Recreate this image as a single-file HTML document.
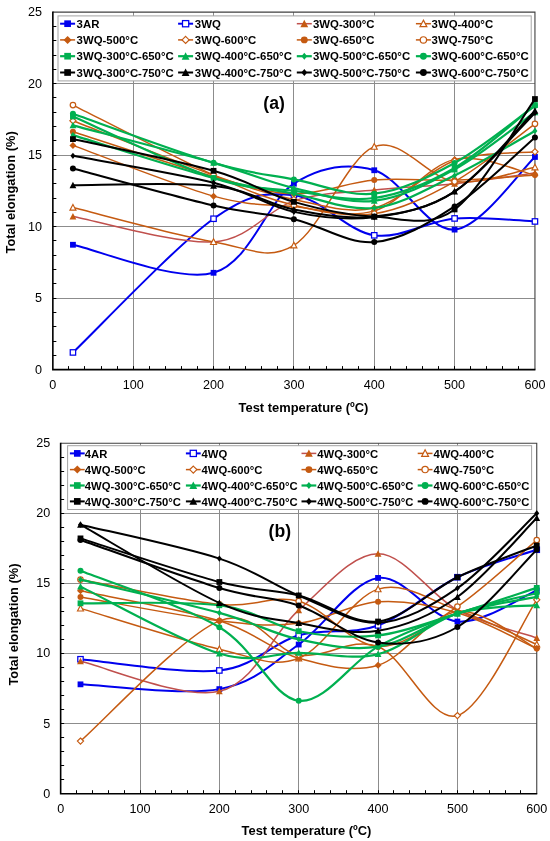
<!DOCTYPE html>
<html><head><meta charset="utf-8"><style>
html,body{margin:0;padding:0;background:#fff;}
body{width:550px;height:841px;overflow:hidden;}
svg{display:block;will-change:transform;filter:blur(0.3px);}
text{font-family:"Liberation Sans",sans-serif;fill:#000;}
.tl{font-size:12.6px;}
.lg{font-size:11.4px;font-weight:bold;}
.at{font-size:12.9px;font-weight:bold;}
.pl{font-size:17.6px;font-weight:bold;}
</style></head><body>
<svg width="550" height="841" viewBox="0 0 550 841">
<rect width="550" height="841" fill="#fff"/>
<line x1="133.50" y1="12.10" x2="133.50" y2="369.60" stroke="#8c8c8c" stroke-width="1"/>
<line x1="213.50" y1="12.10" x2="213.50" y2="369.60" stroke="#8c8c8c" stroke-width="1"/>
<line x1="293.50" y1="12.10" x2="293.50" y2="369.60" stroke="#8c8c8c" stroke-width="1"/>
<line x1="374.50" y1="12.10" x2="374.50" y2="369.60" stroke="#8c8c8c" stroke-width="1"/>
<line x1="454.50" y1="12.10" x2="454.50" y2="369.60" stroke="#8c8c8c" stroke-width="1"/>
<line x1="52.85" y1="298.50" x2="534.95" y2="298.50" stroke="#8c8c8c" stroke-width="1"/>
<line x1="52.85" y1="226.50" x2="534.95" y2="226.50" stroke="#8c8c8c" stroke-width="1"/>
<line x1="52.85" y1="155.50" x2="534.95" y2="155.50" stroke="#8c8c8c" stroke-width="1"/>
<line x1="52.85" y1="83.50" x2="534.95" y2="83.50" stroke="#8c8c8c" stroke-width="1"/>
<path d="M52.85,12.10 H534.95 V369.60" fill="none" stroke="#404040" stroke-width="1.1"/>
<line x1="68.50" y1="369.60" x2="68.50" y2="366.10" stroke="#000" stroke-width="1"/>
<line x1="84.50" y1="369.60" x2="84.50" y2="366.10" stroke="#000" stroke-width="1"/>
<line x1="101.50" y1="369.60" x2="101.50" y2="366.10" stroke="#000" stroke-width="1"/>
<line x1="117.50" y1="369.60" x2="117.50" y2="366.10" stroke="#000" stroke-width="1"/>
<line x1="133.50" y1="369.60" x2="133.50" y2="366.10" stroke="#000" stroke-width="1"/>
<line x1="149.50" y1="369.60" x2="149.50" y2="366.10" stroke="#000" stroke-width="1"/>
<line x1="165.50" y1="369.60" x2="165.50" y2="366.10" stroke="#000" stroke-width="1"/>
<line x1="181.50" y1="369.60" x2="181.50" y2="366.10" stroke="#000" stroke-width="1"/>
<line x1="197.50" y1="369.60" x2="197.50" y2="366.10" stroke="#000" stroke-width="1"/>
<line x1="213.50" y1="369.60" x2="213.50" y2="366.10" stroke="#000" stroke-width="1"/>
<line x1="229.50" y1="369.60" x2="229.50" y2="366.10" stroke="#000" stroke-width="1"/>
<line x1="245.50" y1="369.60" x2="245.50" y2="366.10" stroke="#000" stroke-width="1"/>
<line x1="261.50" y1="369.60" x2="261.50" y2="366.10" stroke="#000" stroke-width="1"/>
<line x1="277.50" y1="369.60" x2="277.50" y2="366.10" stroke="#000" stroke-width="1"/>
<line x1="293.50" y1="369.60" x2="293.50" y2="366.10" stroke="#000" stroke-width="1"/>
<line x1="309.50" y1="369.60" x2="309.50" y2="366.10" stroke="#000" stroke-width="1"/>
<line x1="326.50" y1="369.60" x2="326.50" y2="366.10" stroke="#000" stroke-width="1"/>
<line x1="342.50" y1="369.60" x2="342.50" y2="366.10" stroke="#000" stroke-width="1"/>
<line x1="358.50" y1="369.60" x2="358.50" y2="366.10" stroke="#000" stroke-width="1"/>
<line x1="374.50" y1="369.60" x2="374.50" y2="366.10" stroke="#000" stroke-width="1"/>
<line x1="390.50" y1="369.60" x2="390.50" y2="366.10" stroke="#000" stroke-width="1"/>
<line x1="406.50" y1="369.60" x2="406.50" y2="366.10" stroke="#000" stroke-width="1"/>
<line x1="422.50" y1="369.60" x2="422.50" y2="366.10" stroke="#000" stroke-width="1"/>
<line x1="438.50" y1="369.60" x2="438.50" y2="366.10" stroke="#000" stroke-width="1"/>
<line x1="454.50" y1="369.60" x2="454.50" y2="366.10" stroke="#000" stroke-width="1"/>
<line x1="470.50" y1="369.60" x2="470.50" y2="366.10" stroke="#000" stroke-width="1"/>
<line x1="486.50" y1="369.60" x2="486.50" y2="366.10" stroke="#000" stroke-width="1"/>
<line x1="502.50" y1="369.60" x2="502.50" y2="366.10" stroke="#000" stroke-width="1"/>
<line x1="518.50" y1="369.60" x2="518.50" y2="366.10" stroke="#000" stroke-width="1"/>
<line x1="52.85" y1="355.50" x2="56.35" y2="355.50" stroke="#000" stroke-width="1"/>
<line x1="52.85" y1="341.50" x2="56.35" y2="341.50" stroke="#000" stroke-width="1"/>
<line x1="52.85" y1="326.50" x2="56.35" y2="326.50" stroke="#000" stroke-width="1"/>
<line x1="52.85" y1="312.50" x2="56.35" y2="312.50" stroke="#000" stroke-width="1"/>
<line x1="52.85" y1="298.50" x2="56.35" y2="298.50" stroke="#000" stroke-width="1"/>
<line x1="52.85" y1="283.50" x2="56.35" y2="283.50" stroke="#000" stroke-width="1"/>
<line x1="52.85" y1="269.50" x2="56.35" y2="269.50" stroke="#000" stroke-width="1"/>
<line x1="52.85" y1="255.50" x2="56.35" y2="255.50" stroke="#000" stroke-width="1"/>
<line x1="52.85" y1="240.50" x2="56.35" y2="240.50" stroke="#000" stroke-width="1"/>
<line x1="52.85" y1="226.50" x2="56.35" y2="226.50" stroke="#000" stroke-width="1"/>
<line x1="52.85" y1="212.50" x2="56.35" y2="212.50" stroke="#000" stroke-width="1"/>
<line x1="52.85" y1="198.50" x2="56.35" y2="198.50" stroke="#000" stroke-width="1"/>
<line x1="52.85" y1="183.50" x2="56.35" y2="183.50" stroke="#000" stroke-width="1"/>
<line x1="52.85" y1="169.50" x2="56.35" y2="169.50" stroke="#000" stroke-width="1"/>
<line x1="52.85" y1="155.50" x2="56.35" y2="155.50" stroke="#000" stroke-width="1"/>
<line x1="52.85" y1="140.50" x2="56.35" y2="140.50" stroke="#000" stroke-width="1"/>
<line x1="52.85" y1="126.50" x2="56.35" y2="126.50" stroke="#000" stroke-width="1"/>
<line x1="52.85" y1="112.50" x2="56.35" y2="112.50" stroke="#000" stroke-width="1"/>
<line x1="52.85" y1="97.50" x2="56.35" y2="97.50" stroke="#000" stroke-width="1"/>
<line x1="52.85" y1="83.50" x2="56.35" y2="83.50" stroke="#000" stroke-width="1"/>
<line x1="52.85" y1="69.50" x2="56.35" y2="69.50" stroke="#000" stroke-width="1"/>
<line x1="52.85" y1="55.50" x2="56.35" y2="55.50" stroke="#000" stroke-width="1"/>
<line x1="52.85" y1="40.50" x2="56.35" y2="40.50" stroke="#000" stroke-width="1"/>
<line x1="52.85" y1="26.50" x2="56.35" y2="26.50" stroke="#000" stroke-width="1"/>
<path d="M52.85,11.60 V369.60 H535.45" fill="none" stroke="#000" stroke-width="1.6"/>
<text x="42.00" y="373.50" text-anchor="end" class="tl">0</text>
<text x="42.00" y="302.00" text-anchor="end" class="tl">5</text>
<text x="42.00" y="230.50" text-anchor="end" class="tl">10</text>
<text x="42.00" y="159.00" text-anchor="end" class="tl">15</text>
<text x="42.00" y="87.50" text-anchor="end" class="tl">20</text>
<text x="42.00" y="16.00" text-anchor="end" class="tl">25</text>
<text x="52.85" y="388.60" text-anchor="middle" class="tl">0</text>
<text x="133.20" y="388.60" text-anchor="middle" class="tl">100</text>
<text x="213.55" y="388.60" text-anchor="middle" class="tl">200</text>
<text x="293.90" y="388.60" text-anchor="middle" class="tl">300</text>
<text x="374.25" y="388.60" text-anchor="middle" class="tl">400</text>
<text x="454.60" y="388.60" text-anchor="middle" class="tl">500</text>
<text x="534.95" y="388.60" text-anchor="middle" class="tl">600</text>
<path d="M72.94,244.76 C96.37,249.43 176.72,282.97 213.55,272.79 C250.38,262.61 267.12,200.79 293.90,183.70 C320.68,166.61 347.47,162.61 374.25,170.26 C401.03,177.91 427.82,231.82 454.60,229.60 C481.38,227.39 521.56,169.07 534.95,156.96" fill="none" stroke="#0000EE" stroke-width="2.00"/>
<rect x="70.04" y="241.86" width="5.80" height="5.80" fill="#0000EE"/>
<rect x="210.65" y="269.89" width="5.80" height="5.80" fill="#0000EE"/>
<rect x="291.00" y="180.80" width="5.80" height="5.80" fill="#0000EE"/>
<rect x="371.35" y="167.36" width="5.80" height="5.80" fill="#0000EE"/>
<rect x="451.70" y="226.70" width="5.80" height="5.80" fill="#0000EE"/>
<rect x="532.05" y="154.06" width="5.80" height="5.80" fill="#0000EE"/>
<path d="M72.94,352.44 C96.37,330.16 176.72,244.95 213.55,218.74 C250.38,192.52 267.12,192.38 293.90,195.14 C320.68,197.90 347.47,231.44 374.25,235.32 C401.03,239.21 427.82,220.76 454.60,218.45 C481.38,216.14 521.56,220.95 534.95,221.45" fill="none" stroke="#0000EE" stroke-width="2.00"/>
<rect x="70.24" y="349.74" width="5.40" height="5.40" fill="#fff" stroke="#0000EE" stroke-width="1.25"/>
<rect x="210.85" y="216.04" width="5.40" height="5.40" fill="#fff" stroke="#0000EE" stroke-width="1.25"/>
<rect x="291.20" y="192.44" width="5.40" height="5.40" fill="#fff" stroke="#0000EE" stroke-width="1.25"/>
<rect x="371.55" y="232.62" width="5.40" height="5.40" fill="#fff" stroke="#0000EE" stroke-width="1.25"/>
<rect x="451.90" y="215.75" width="5.40" height="5.40" fill="#fff" stroke="#0000EE" stroke-width="1.25"/>
<rect x="532.25" y="218.75" width="5.40" height="5.40" fill="#fff" stroke="#0000EE" stroke-width="1.25"/>
<path d="M72.94,216.45 C96.37,220.69 176.72,244.50 213.55,241.90 C250.38,239.30 267.12,209.51 293.90,200.86 C320.68,192.21 347.47,192.85 374.25,189.99 C401.03,187.13 427.82,186.54 454.60,183.70 C481.38,180.86 521.56,174.76 534.95,172.98" fill="none" stroke="#C0504D" stroke-width="1.50"/>
<path d="M72.94,212.95 L76.34,219.45 L69.54,219.45 Z" fill="#C55A11"/>
<path d="M213.55,238.40 L216.95,244.90 L210.15,244.90 Z" fill="#C55A11"/>
<path d="M293.90,197.36 L297.30,203.86 L290.50,203.86 Z" fill="#C55A11"/>
<path d="M374.25,186.49 L377.65,192.99 L370.85,192.99 Z" fill="#C55A11"/>
<path d="M454.60,180.20 L458.00,186.70 L451.20,186.70 Z" fill="#C55A11"/>
<path d="M534.95,169.48 L538.35,175.98 L531.55,175.98 Z" fill="#C55A11"/>
<path d="M72.94,207.58 C96.37,213.30 176.72,235.61 213.55,241.90 C250.38,248.19 267.12,261.21 293.90,245.33 C320.68,229.46 347.47,157.29 374.25,146.66 C401.03,136.03 427.82,178.12 454.60,181.56 C481.38,184.99 521.56,169.64 534.95,167.25" fill="none" stroke="#C55A11" stroke-width="1.50"/>
<path d="M72.94,204.48 L75.94,210.18 L69.94,210.18 Z" fill="#fff" stroke="#C55A11" stroke-width="1.15" stroke-linejoin="miter"/>
<path d="M213.55,238.80 L216.55,244.50 L210.55,244.50 Z" fill="#fff" stroke="#C55A11" stroke-width="1.15" stroke-linejoin="miter"/>
<path d="M293.90,242.23 L296.90,247.93 L290.90,247.93 Z" fill="#fff" stroke="#C55A11" stroke-width="1.15" stroke-linejoin="miter"/>
<path d="M374.25,143.56 L377.25,149.26 L371.25,149.26 Z" fill="#fff" stroke="#C55A11" stroke-width="1.15" stroke-linejoin="miter"/>
<path d="M454.60,178.46 L457.60,184.16 L451.60,184.16 Z" fill="#fff" stroke="#C55A11" stroke-width="1.15" stroke-linejoin="miter"/>
<path d="M534.95,164.16 L537.95,169.85 L531.95,169.85 Z" fill="#fff" stroke="#C55A11" stroke-width="1.15" stroke-linejoin="miter"/>
<path d="M72.94,145.38 C96.37,153.84 176.72,185.94 213.55,196.14 C250.38,206.34 267.12,204.13 293.90,206.58 C320.68,209.03 347.47,218.74 374.25,210.87 C401.03,203.01 427.82,165.35 454.60,159.39 C481.38,153.43 521.56,172.50 534.95,175.12" fill="none" stroke="#C55A11" stroke-width="1.50"/>
<path d="M72.94,141.88 L76.44,145.38 L72.94,148.88 L69.44,145.38 Z" fill="#C55A11"/>
<path d="M213.55,192.64 L217.05,196.14 L213.55,199.64 L210.05,196.14 Z" fill="#C55A11"/>
<path d="M293.90,203.08 L297.40,206.58 L293.90,210.08 L290.40,206.58 Z" fill="#C55A11"/>
<path d="M374.25,207.37 L377.75,210.87 L374.25,214.37 L370.75,210.87 Z" fill="#C55A11"/>
<path d="M454.60,155.89 L458.10,159.39 L454.60,162.89 L451.10,159.39 Z" fill="#C55A11"/>
<path d="M534.95,171.62 L538.45,175.12 L534.95,178.62 L531.45,175.12 Z" fill="#C55A11"/>
<path d="M72.94,120.78 C96.37,129.84 176.72,162.01 213.55,175.12 C250.38,188.23 267.12,193.95 293.90,199.43 C320.68,204.91 347.47,214.44 374.25,208.01 C401.03,201.57 427.82,170.19 454.60,160.82 C481.38,151.45 521.56,153.31 534.95,151.81" fill="none" stroke="#C55A11" stroke-width="1.50"/>
<path d="M72.94,117.68 L76.04,120.78 L72.94,123.88 L69.84,120.78 Z" fill="#fff" stroke="#C55A11" stroke-width="1.15"/>
<path d="M213.55,172.02 L216.65,175.12 L213.55,178.22 L210.45,175.12 Z" fill="#fff" stroke="#C55A11" stroke-width="1.15"/>
<path d="M293.90,196.33 L297.00,199.43 L293.90,202.53 L290.80,199.43 Z" fill="#fff" stroke="#C55A11" stroke-width="1.15"/>
<path d="M374.25,204.91 L377.35,208.01 L374.25,211.11 L371.15,208.01 Z" fill="#fff" stroke="#C55A11" stroke-width="1.15"/>
<path d="M454.60,157.72 L457.70,160.82 L454.60,163.92 L451.50,160.82 Z" fill="#fff" stroke="#C55A11" stroke-width="1.15"/>
<path d="M534.95,148.71 L538.05,151.81 L534.95,154.91 L531.85,151.81 Z" fill="#fff" stroke="#C55A11" stroke-width="1.15"/>
<path d="M72.94,131.79 C96.37,139.25 176.72,166.23 213.55,176.55 C250.38,186.87 267.12,193.14 293.90,193.71 C320.68,194.28 347.47,182.25 374.25,179.98 C401.03,177.72 427.82,180.94 454.60,180.12 C481.38,179.31 521.56,175.95 534.95,175.12" fill="none" stroke="#C55A11" stroke-width="1.50"/>
<circle cx="72.94" cy="131.79" r="3.00" fill="#C55A11"/>
<circle cx="213.55" cy="176.55" r="3.00" fill="#C55A11"/>
<circle cx="293.90" cy="193.71" r="3.00" fill="#C55A11"/>
<circle cx="374.25" cy="179.98" r="3.00" fill="#C55A11"/>
<circle cx="454.60" cy="180.12" r="3.00" fill="#C55A11"/>
<circle cx="534.95" cy="175.12" r="3.00" fill="#C55A11"/>
<path d="M72.94,105.05 C96.37,116.73 176.72,158.44 213.55,175.12 C250.38,191.80 267.12,198.72 293.90,205.15 C320.68,211.59 347.47,217.66 374.25,213.73 C401.03,209.80 427.82,196.55 454.60,181.56 C481.38,166.56 521.56,133.41 534.95,123.78" fill="none" stroke="#C55A11" stroke-width="1.50"/>
<circle cx="72.94" cy="105.05" r="2.75" fill="#fff" stroke="#C55A11" stroke-width="1.2"/>
<circle cx="213.55" cy="175.12" r="2.75" fill="#fff" stroke="#C55A11" stroke-width="1.2"/>
<circle cx="293.90" cy="205.15" r="2.75" fill="#fff" stroke="#C55A11" stroke-width="1.2"/>
<circle cx="374.25" cy="213.73" r="2.75" fill="#fff" stroke="#C55A11" stroke-width="1.2"/>
<circle cx="454.60" cy="181.56" r="2.75" fill="#fff" stroke="#C55A11" stroke-width="1.2"/>
<circle cx="534.95" cy="123.78" r="2.75" fill="#fff" stroke="#C55A11" stroke-width="1.2"/>
<path d="M72.94,116.49 C96.37,126.74 176.72,165.59 213.55,177.98 C250.38,190.37 267.12,187.51 293.90,190.85 C320.68,194.19 347.47,201.81 374.25,198.00 C401.03,194.19 427.82,183.46 454.60,167.97 C481.38,152.48 521.56,115.54 534.95,105.05" fill="none" stroke="#00B050" stroke-width="2.20"/>
<rect x="70.04" y="113.59" width="5.80" height="5.80" fill="#00B050"/>
<rect x="210.65" y="175.08" width="5.80" height="5.80" fill="#00B050"/>
<rect x="291.00" y="187.95" width="5.80" height="5.80" fill="#00B050"/>
<rect x="371.35" y="195.10" width="5.80" height="5.80" fill="#00B050"/>
<rect x="451.70" y="165.07" width="5.80" height="5.80" fill="#00B050"/>
<rect x="532.05" y="102.15" width="5.80" height="5.80" fill="#00B050"/>
<path d="M72.94,125.36 C96.37,131.60 176.72,152.38 213.55,162.82 C250.38,173.26 267.12,181.65 293.90,187.99 C320.68,194.33 347.47,203.96 374.25,200.86 C401.03,197.76 427.82,184.18 454.60,169.40 C481.38,154.62 521.56,121.73 534.95,112.20" fill="none" stroke="#00B050" stroke-width="2.20"/>
<path d="M72.94,121.86 L76.34,128.36 L69.54,128.36 Z" fill="#00B050"/>
<path d="M213.55,159.32 L216.95,165.82 L210.15,165.82 Z" fill="#00B050"/>
<path d="M293.90,184.49 L297.30,190.99 L290.50,190.99 Z" fill="#00B050"/>
<path d="M374.25,197.36 L377.65,203.86 L370.85,203.86 Z" fill="#00B050"/>
<path d="M454.60,165.90 L458.00,172.40 L451.20,172.40 Z" fill="#00B050"/>
<path d="M534.95,108.70 L538.35,115.20 L531.55,115.20 Z" fill="#00B050"/>
<path d="M72.94,135.08 C96.37,142.23 176.72,168.21 213.55,177.98 C250.38,187.75 267.12,188.71 293.90,193.71 C320.68,198.72 347.47,211.04 374.25,208.01 C401.03,204.98 427.82,188.40 454.60,175.55 C481.38,162.70 521.56,138.37 534.95,130.93" fill="none" stroke="#00B050" stroke-width="2.20"/>
<path d="M72.94,131.98 L75.44,135.08 L72.94,138.18 L70.44,135.08 Z" fill="#00B050"/>
<path d="M213.55,174.88 L216.05,177.98 L213.55,181.08 L211.05,177.98 Z" fill="#00B050"/>
<path d="M293.90,190.61 L296.40,193.71 L293.90,196.81 L291.40,193.71 Z" fill="#00B050"/>
<path d="M374.25,204.91 L376.75,208.01 L374.25,211.11 L371.75,208.01 Z" fill="#00B050"/>
<path d="M454.60,172.45 L457.10,175.55 L454.60,178.65 L452.10,175.55 Z" fill="#00B050"/>
<path d="M534.95,127.83 L537.45,130.93 L534.95,134.03 L532.45,130.93 Z" fill="#00B050"/>
<path d="M72.94,113.77 C96.37,121.95 176.72,151.88 213.55,162.82 C250.38,173.76 267.12,174.26 293.90,179.41 C320.68,184.56 347.47,196.45 374.25,193.71 C401.03,190.97 427.82,177.62 454.60,162.97 C481.38,148.31 521.56,115.30 534.95,105.77" fill="none" stroke="#00B050" stroke-width="2.20"/>
<circle cx="72.94" cy="113.77" r="3.00" fill="#00B050"/>
<circle cx="213.55" cy="162.82" r="3.00" fill="#00B050"/>
<circle cx="293.90" cy="179.41" r="3.00" fill="#00B050"/>
<circle cx="374.25" cy="193.71" r="3.00" fill="#00B050"/>
<circle cx="454.60" cy="162.97" r="3.00" fill="#00B050"/>
<circle cx="534.95" cy="105.77" r="3.00" fill="#00B050"/>
<path d="M72.94,139.08 C96.37,144.38 176.72,160.37 213.55,170.83 C250.38,181.29 267.12,194.23 293.90,201.86 C320.68,209.49 347.47,215.33 374.25,216.59 C401.03,217.85 427.82,229.03 454.60,209.44 C481.38,189.85 521.56,117.44 534.95,99.04" fill="none" stroke="#000000" stroke-width="2.00"/>
<rect x="70.04" y="136.18" width="5.80" height="5.80" fill="#000000"/>
<rect x="210.65" y="167.93" width="5.80" height="5.80" fill="#000000"/>
<rect x="291.00" y="198.96" width="5.80" height="5.80" fill="#000000"/>
<rect x="371.35" y="213.69" width="5.80" height="5.80" fill="#000000"/>
<rect x="451.70" y="206.54" width="5.80" height="5.80" fill="#000000"/>
<rect x="532.05" y="96.14" width="5.80" height="5.80" fill="#000000"/>
<path d="M72.94,185.27 C96.37,185.37 176.72,181.82 213.55,185.85 C250.38,189.87 267.12,204.32 293.90,209.44 C320.68,214.56 347.47,219.57 374.25,216.59 C401.03,213.61 427.82,209.20 454.60,191.57 C481.38,173.93 521.56,124.24 534.95,110.77" fill="none" stroke="#000000" stroke-width="2.00"/>
<path d="M72.94,181.77 L76.34,188.27 L69.54,188.27 Z" fill="#000000"/>
<path d="M213.55,182.35 L216.95,188.85 L210.15,188.85 Z" fill="#000000"/>
<path d="M293.90,205.94 L297.30,212.44 L290.50,212.44 Z" fill="#000000"/>
<path d="M374.25,213.09 L377.65,219.59 L370.85,219.59 Z" fill="#000000"/>
<path d="M454.60,188.07 L458.00,194.57 L451.20,194.57 Z" fill="#000000"/>
<path d="M534.95,107.27 L538.35,113.77 L531.55,113.77 Z" fill="#000000"/>
<path d="M72.94,155.82 C96.37,160.30 176.72,173.36 213.55,182.70 C250.38,192.04 267.12,206.13 293.90,211.87 C320.68,217.61 347.47,220.55 374.25,217.16 C401.03,213.78 427.82,208.94 454.60,191.57 C481.38,174.19 521.56,126.02 534.95,112.92" fill="none" stroke="#000000" stroke-width="2.00"/>
<path d="M72.94,152.72 L75.44,155.82 L72.94,158.92 L70.44,155.82 Z" fill="#000000"/>
<path d="M213.55,179.60 L216.05,182.70 L213.55,185.80 L211.05,182.70 Z" fill="#000000"/>
<path d="M293.90,208.77 L296.40,211.87 L293.90,214.97 L291.40,211.87 Z" fill="#000000"/>
<path d="M374.25,214.06 L376.75,217.16 L374.25,220.26 L371.75,217.16 Z" fill="#000000"/>
<path d="M454.60,188.47 L457.10,191.57 L454.60,194.67 L452.10,191.57 Z" fill="#000000"/>
<path d="M534.95,109.82 L537.45,112.92 L534.95,116.02 L532.45,112.92 Z" fill="#000000"/>
<path d="M72.94,168.54 C96.37,174.71 176.72,197.14 213.55,205.58 C250.38,214.02 267.12,213.09 293.90,219.16 C320.68,225.24 347.47,244.17 374.25,242.04 C401.03,239.92 427.82,223.86 454.60,206.44 C481.38,189.01 521.56,149.00 534.95,137.51" fill="none" stroke="#000000" stroke-width="2.00"/>
<circle cx="72.94" cy="168.54" r="3.00" fill="#000000"/>
<circle cx="213.55" cy="205.58" r="3.00" fill="#000000"/>
<circle cx="293.90" cy="219.16" r="3.00" fill="#000000"/>
<circle cx="374.25" cy="242.04" r="3.00" fill="#000000"/>
<circle cx="454.60" cy="206.44" r="3.00" fill="#000000"/>
<circle cx="534.95" cy="137.51" r="3.00" fill="#000000"/>
<rect x="58.00" y="15.90" width="473.20" height="65.00" fill="#fff" stroke="#a4a4a4" stroke-width="1"/>
<line x1="60.10" y1="23.70" x2="75.10" y2="23.70" stroke="#0000EE" stroke-width="2.00"/>
<rect x="64.27" y="20.36" width="6.67" height="6.67" fill="#0000EE"/>
<text x="76.60" y="27.80" class="lg" style="font-size:11.40px">3AR</text>
<line x1="178.10" y1="23.70" x2="193.10" y2="23.70" stroke="#0000EE" stroke-width="2.00"/>
<rect x="182.50" y="20.59" width="6.21" height="6.21" fill="#fff" stroke="#0000EE" stroke-width="1.25"/>
<text x="194.80" y="27.80" class="lg" style="font-size:11.40px">3WQ</text>
<line x1="296.80" y1="23.70" x2="311.80" y2="23.70" stroke="#C0504D" stroke-width="1.50"/>
<path d="M304.30,19.68 L308.21,27.15 L300.39,27.15 Z" fill="#C55A11"/>
<text x="313.00" y="27.80" class="lg" style="font-size:11.40px">3WQ-300°C</text>
<line x1="415.90" y1="23.70" x2="430.90" y2="23.70" stroke="#C55A11" stroke-width="1.50"/>
<path d="M423.40,20.13 L426.85,26.69 L419.95,26.69 Z" fill="#fff" stroke="#C55A11" stroke-width="1.15" stroke-linejoin="miter"/>
<text x="431.60" y="27.80" class="lg" style="font-size:11.40px">3WQ-400°C</text>
<line x1="60.10" y1="39.90" x2="75.10" y2="39.90" stroke="#C55A11" stroke-width="1.50"/>
<path d="M67.60,35.88 L71.62,39.90 L67.60,43.92 L63.57,39.90 Z" fill="#C55A11"/>
<text x="76.60" y="44.00" class="lg" style="font-size:11.40px">3WQ-500°C</text>
<line x1="178.10" y1="39.90" x2="193.10" y2="39.90" stroke="#C55A11" stroke-width="1.50"/>
<path d="M185.60,36.34 L189.16,39.90 L185.60,43.46 L182.03,39.90 Z" fill="#fff" stroke="#C55A11" stroke-width="1.15"/>
<text x="194.80" y="44.00" class="lg" style="font-size:11.40px">3WQ-600°C</text>
<line x1="296.80" y1="39.90" x2="311.80" y2="39.90" stroke="#C55A11" stroke-width="1.50"/>
<circle cx="304.30" cy="39.90" r="3.45" fill="#C55A11"/>
<text x="313.00" y="44.00" class="lg" style="font-size:11.40px">3WQ-650°C</text>
<line x1="415.90" y1="39.90" x2="430.90" y2="39.90" stroke="#C55A11" stroke-width="1.50"/>
<circle cx="423.40" cy="39.90" r="3.16" fill="#fff" stroke="#C55A11" stroke-width="1.2"/>
<text x="431.60" y="44.00" class="lg" style="font-size:11.40px">3WQ-750°C</text>
<line x1="60.10" y1="56.20" x2="75.10" y2="56.20" stroke="#00B050" stroke-width="2.20"/>
<rect x="64.27" y="52.87" width="6.67" height="6.67" fill="#00B050"/>
<text x="76.60" y="60.30" class="lg" style="font-size:11.40px">3WQ-300°C-650°C</text>
<line x1="178.10" y1="56.20" x2="193.10" y2="56.20" stroke="#00B050" stroke-width="2.20"/>
<path d="M185.60,52.18 L189.51,59.65 L181.69,59.65 Z" fill="#00B050"/>
<text x="194.80" y="60.30" class="lg" style="font-size:11.40px">3WQ-400°C-650°C</text>
<line x1="296.80" y1="56.20" x2="311.80" y2="56.20" stroke="#00B050" stroke-width="2.20"/>
<path d="M304.30,52.64 L307.18,56.20 L304.30,59.77 L301.43,56.20 Z" fill="#00B050"/>
<text x="313.00" y="60.30" class="lg" style="font-size:11.40px">3WQ-500°C-650°C</text>
<line x1="415.90" y1="56.20" x2="430.90" y2="56.20" stroke="#00B050" stroke-width="2.20"/>
<circle cx="423.40" cy="56.20" r="3.45" fill="#00B050"/>
<text x="431.60" y="60.30" class="lg" style="font-size:11.40px">3WQ-600°C-650°C</text>
<line x1="60.10" y1="72.50" x2="75.10" y2="72.50" stroke="#000000" stroke-width="2.00"/>
<rect x="64.27" y="69.17" width="6.67" height="6.67" fill="#000000"/>
<text x="76.60" y="76.60" class="lg" style="font-size:11.40px">3WQ-300°C-750°C</text>
<line x1="178.10" y1="72.50" x2="193.10" y2="72.50" stroke="#000000" stroke-width="2.00"/>
<path d="M185.60,68.47 L189.51,75.95 L181.69,75.95 Z" fill="#000000"/>
<text x="194.80" y="76.60" class="lg" style="font-size:11.40px">3WQ-400°C-750°C</text>
<line x1="296.80" y1="72.50" x2="311.80" y2="72.50" stroke="#000000" stroke-width="2.00"/>
<path d="M304.30,68.94 L307.18,72.50 L304.30,76.06 L301.43,72.50 Z" fill="#000000"/>
<text x="313.00" y="76.60" class="lg" style="font-size:11.40px">3WQ-500°C-750°C</text>
<line x1="415.90" y1="72.50" x2="430.90" y2="72.50" stroke="#000000" stroke-width="2.00"/>
<circle cx="423.40" cy="72.50" r="3.45" fill="#000000"/>
<text x="431.60" y="76.60" class="lg" style="font-size:11.40px">3WQ-600°C-750°C</text>
<text x="263.30" y="108.60" class="pl">(a)</text>
<text x="303.50" y="411.60" text-anchor="middle" class="at">Test temperature (<tspan>º</tspan>C)</text>
<text transform="translate(15.30,192.40) rotate(-90)" text-anchor="middle" class="at">Total elongation (%)</text>
<line x1="140.50" y1="443.20" x2="140.50" y2="793.70" stroke="#8c8c8c" stroke-width="1"/>
<line x1="219.50" y1="443.20" x2="219.50" y2="793.70" stroke="#8c8c8c" stroke-width="1"/>
<line x1="298.50" y1="443.20" x2="298.50" y2="793.70" stroke="#8c8c8c" stroke-width="1"/>
<line x1="378.50" y1="443.20" x2="378.50" y2="793.70" stroke="#8c8c8c" stroke-width="1"/>
<line x1="457.50" y1="443.20" x2="457.50" y2="793.70" stroke="#8c8c8c" stroke-width="1"/>
<line x1="60.65" y1="723.50" x2="536.75" y2="723.50" stroke="#8c8c8c" stroke-width="1"/>
<line x1="60.65" y1="653.50" x2="536.75" y2="653.50" stroke="#8c8c8c" stroke-width="1"/>
<line x1="60.65" y1="583.50" x2="536.75" y2="583.50" stroke="#8c8c8c" stroke-width="1"/>
<line x1="60.65" y1="513.50" x2="536.75" y2="513.50" stroke="#8c8c8c" stroke-width="1"/>
<path d="M60.65,443.20 H536.75 V793.70" fill="none" stroke="#404040" stroke-width="1.1"/>
<line x1="76.50" y1="793.70" x2="76.50" y2="790.20" stroke="#000" stroke-width="1"/>
<line x1="92.50" y1="793.70" x2="92.50" y2="790.20" stroke="#000" stroke-width="1"/>
<line x1="108.50" y1="793.70" x2="108.50" y2="790.20" stroke="#000" stroke-width="1"/>
<line x1="124.50" y1="793.70" x2="124.50" y2="790.20" stroke="#000" stroke-width="1"/>
<line x1="140.50" y1="793.70" x2="140.50" y2="790.20" stroke="#000" stroke-width="1"/>
<line x1="155.50" y1="793.70" x2="155.50" y2="790.20" stroke="#000" stroke-width="1"/>
<line x1="171.50" y1="793.70" x2="171.50" y2="790.20" stroke="#000" stroke-width="1"/>
<line x1="187.50" y1="793.70" x2="187.50" y2="790.20" stroke="#000" stroke-width="1"/>
<line x1="203.50" y1="793.70" x2="203.50" y2="790.20" stroke="#000" stroke-width="1"/>
<line x1="219.50" y1="793.70" x2="219.50" y2="790.20" stroke="#000" stroke-width="1"/>
<line x1="235.50" y1="793.70" x2="235.50" y2="790.20" stroke="#000" stroke-width="1"/>
<line x1="251.50" y1="793.70" x2="251.50" y2="790.20" stroke="#000" stroke-width="1"/>
<line x1="266.50" y1="793.70" x2="266.50" y2="790.20" stroke="#000" stroke-width="1"/>
<line x1="282.50" y1="793.70" x2="282.50" y2="790.20" stroke="#000" stroke-width="1"/>
<line x1="298.50" y1="793.70" x2="298.50" y2="790.20" stroke="#000" stroke-width="1"/>
<line x1="314.50" y1="793.70" x2="314.50" y2="790.20" stroke="#000" stroke-width="1"/>
<line x1="330.50" y1="793.70" x2="330.50" y2="790.20" stroke="#000" stroke-width="1"/>
<line x1="346.50" y1="793.70" x2="346.50" y2="790.20" stroke="#000" stroke-width="1"/>
<line x1="362.50" y1="793.70" x2="362.50" y2="790.20" stroke="#000" stroke-width="1"/>
<line x1="378.50" y1="793.70" x2="378.50" y2="790.20" stroke="#000" stroke-width="1"/>
<line x1="393.50" y1="793.70" x2="393.50" y2="790.20" stroke="#000" stroke-width="1"/>
<line x1="409.50" y1="793.70" x2="409.50" y2="790.20" stroke="#000" stroke-width="1"/>
<line x1="425.50" y1="793.70" x2="425.50" y2="790.20" stroke="#000" stroke-width="1"/>
<line x1="441.50" y1="793.70" x2="441.50" y2="790.20" stroke="#000" stroke-width="1"/>
<line x1="457.50" y1="793.70" x2="457.50" y2="790.20" stroke="#000" stroke-width="1"/>
<line x1="473.50" y1="793.70" x2="473.50" y2="790.20" stroke="#000" stroke-width="1"/>
<line x1="489.50" y1="793.70" x2="489.50" y2="790.20" stroke="#000" stroke-width="1"/>
<line x1="505.50" y1="793.70" x2="505.50" y2="790.20" stroke="#000" stroke-width="1"/>
<line x1="520.50" y1="793.70" x2="520.50" y2="790.20" stroke="#000" stroke-width="1"/>
<line x1="60.65" y1="779.50" x2="64.15" y2="779.50" stroke="#000" stroke-width="1"/>
<line x1="60.65" y1="765.50" x2="64.15" y2="765.50" stroke="#000" stroke-width="1"/>
<line x1="60.65" y1="751.50" x2="64.15" y2="751.50" stroke="#000" stroke-width="1"/>
<line x1="60.65" y1="737.50" x2="64.15" y2="737.50" stroke="#000" stroke-width="1"/>
<line x1="60.65" y1="723.50" x2="64.15" y2="723.50" stroke="#000" stroke-width="1"/>
<line x1="60.65" y1="709.50" x2="64.15" y2="709.50" stroke="#000" stroke-width="1"/>
<line x1="60.65" y1="695.50" x2="64.15" y2="695.50" stroke="#000" stroke-width="1"/>
<line x1="60.65" y1="681.50" x2="64.15" y2="681.50" stroke="#000" stroke-width="1"/>
<line x1="60.65" y1="667.50" x2="64.15" y2="667.50" stroke="#000" stroke-width="1"/>
<line x1="60.65" y1="653.50" x2="64.15" y2="653.50" stroke="#000" stroke-width="1"/>
<line x1="60.65" y1="639.50" x2="64.15" y2="639.50" stroke="#000" stroke-width="1"/>
<line x1="60.65" y1="625.50" x2="64.15" y2="625.50" stroke="#000" stroke-width="1"/>
<line x1="60.65" y1="611.50" x2="64.15" y2="611.50" stroke="#000" stroke-width="1"/>
<line x1="60.65" y1="597.50" x2="64.15" y2="597.50" stroke="#000" stroke-width="1"/>
<line x1="60.65" y1="583.50" x2="64.15" y2="583.50" stroke="#000" stroke-width="1"/>
<line x1="60.65" y1="569.50" x2="64.15" y2="569.50" stroke="#000" stroke-width="1"/>
<line x1="60.65" y1="555.50" x2="64.15" y2="555.50" stroke="#000" stroke-width="1"/>
<line x1="60.65" y1="541.50" x2="64.15" y2="541.50" stroke="#000" stroke-width="1"/>
<line x1="60.65" y1="527.50" x2="64.15" y2="527.50" stroke="#000" stroke-width="1"/>
<line x1="60.65" y1="513.50" x2="64.15" y2="513.50" stroke="#000" stroke-width="1"/>
<line x1="60.65" y1="499.50" x2="64.15" y2="499.50" stroke="#000" stroke-width="1"/>
<line x1="60.65" y1="485.50" x2="64.15" y2="485.50" stroke="#000" stroke-width="1"/>
<line x1="60.65" y1="471.50" x2="64.15" y2="471.50" stroke="#000" stroke-width="1"/>
<line x1="60.65" y1="457.50" x2="64.15" y2="457.50" stroke="#000" stroke-width="1"/>
<path d="M60.65,442.70 V793.70 H537.25" fill="none" stroke="#000" stroke-width="1.6"/>
<text x="50.20" y="797.60" text-anchor="end" class="tl">0</text>
<text x="50.20" y="727.50" text-anchor="end" class="tl">5</text>
<text x="50.20" y="657.40" text-anchor="end" class="tl">10</text>
<text x="50.20" y="587.30" text-anchor="end" class="tl">15</text>
<text x="50.20" y="517.20" text-anchor="end" class="tl">20</text>
<text x="50.20" y="447.10" text-anchor="end" class="tl">25</text>
<text x="60.65" y="813.00" text-anchor="middle" class="tl">0</text>
<text x="140.00" y="813.00" text-anchor="middle" class="tl">100</text>
<text x="219.35" y="813.00" text-anchor="middle" class="tl">200</text>
<text x="298.70" y="813.00" text-anchor="middle" class="tl">300</text>
<text x="378.05" y="813.00" text-anchor="middle" class="tl">400</text>
<text x="457.40" y="813.00" text-anchor="middle" class="tl">500</text>
<text x="536.75" y="813.00" text-anchor="middle" class="tl">600</text>
<path d="M80.49,684.34 C103.63,685.14 182.98,695.75 219.35,689.11 C255.72,682.47 272.25,663.06 298.70,644.53 C325.15,626.00 351.60,581.76 378.05,577.93 C404.50,574.10 430.95,619.45 457.40,621.53 C483.85,623.61 523.52,595.60 536.75,590.41" fill="none" stroke="#0000EE" stroke-width="2.00"/>
<rect x="77.59" y="681.44" width="5.80" height="5.80" fill="#0000EE"/>
<rect x="216.45" y="686.21" width="5.80" height="5.80" fill="#0000EE"/>
<rect x="295.80" y="641.63" width="5.80" height="5.80" fill="#0000EE"/>
<rect x="375.15" y="575.03" width="5.80" height="5.80" fill="#0000EE"/>
<rect x="454.50" y="618.63" width="5.80" height="5.80" fill="#0000EE"/>
<rect x="533.85" y="587.51" width="5.80" height="5.80" fill="#0000EE"/>
<path d="M80.49,659.25 C103.63,661.12 182.98,674.46 219.35,670.46 C255.72,666.47 272.25,642.77 298.70,635.27 C325.15,627.77 351.60,635.13 378.05,625.46 C404.50,615.79 430.95,589.85 457.40,577.23 C483.85,564.61 523.52,554.33 536.75,549.75" fill="none" stroke="#0000EE" stroke-width="2.00"/>
<rect x="77.79" y="656.55" width="5.40" height="5.40" fill="#fff" stroke="#0000EE" stroke-width="1.25"/>
<rect x="216.65" y="667.76" width="5.40" height="5.40" fill="#fff" stroke="#0000EE" stroke-width="1.25"/>
<rect x="296.00" y="632.57" width="5.40" height="5.40" fill="#fff" stroke="#0000EE" stroke-width="1.25"/>
<rect x="375.35" y="622.76" width="5.40" height="5.40" fill="#fff" stroke="#0000EE" stroke-width="1.25"/>
<rect x="454.70" y="574.53" width="5.40" height="5.40" fill="#fff" stroke="#0000EE" stroke-width="1.25"/>
<rect x="534.05" y="547.05" width="5.40" height="5.40" fill="#fff" stroke="#0000EE" stroke-width="1.25"/>
<path d="M80.49,661.35 C103.63,666.35 182.98,699.88 219.35,691.35 C255.72,682.83 272.25,633.10 298.70,610.18 C325.15,587.26 351.60,553.84 378.05,553.82 C404.50,553.79 430.95,596.02 457.40,610.04 C483.85,624.06 523.52,633.29 536.75,637.94" fill="none" stroke="#C0504D" stroke-width="1.50"/>
<path d="M80.49,657.85 L83.89,664.35 L77.09,664.35 Z" fill="#C55A11"/>
<path d="M219.35,687.85 L222.75,694.35 L215.95,694.35 Z" fill="#C55A11"/>
<path d="M298.70,606.68 L302.10,613.18 L295.30,613.18 Z" fill="#C55A11"/>
<path d="M378.05,550.32 L381.45,556.82 L374.65,556.82 Z" fill="#C55A11"/>
<path d="M457.40,606.54 L460.80,613.04 L454.00,613.04 Z" fill="#C55A11"/>
<path d="M536.75,634.44 L540.15,640.94 L533.35,640.94 Z" fill="#C55A11"/>
<path d="M80.49,608.36 C103.63,615.16 182.98,640.84 219.35,649.15 C255.72,657.47 272.25,668.27 298.70,658.27 C325.15,648.27 351.60,597.19 378.05,589.15 C404.50,581.11 430.95,600.83 457.40,610.04 C483.85,619.24 523.52,638.66 536.75,644.39" fill="none" stroke="#C55A11" stroke-width="1.50"/>
<path d="M80.49,605.26 L83.49,610.96 L77.49,610.96 Z" fill="#fff" stroke="#C55A11" stroke-width="1.15" stroke-linejoin="miter"/>
<path d="M219.35,646.05 L222.35,651.75 L216.35,651.75 Z" fill="#fff" stroke="#C55A11" stroke-width="1.15" stroke-linejoin="miter"/>
<path d="M298.70,655.17 L301.70,660.87 L295.70,660.87 Z" fill="#fff" stroke="#C55A11" stroke-width="1.15" stroke-linejoin="miter"/>
<path d="M378.05,586.05 L381.05,591.75 L375.05,591.75 Z" fill="#fff" stroke="#C55A11" stroke-width="1.15" stroke-linejoin="miter"/>
<path d="M457.40,606.94 L460.40,612.64 L454.40,612.64 Z" fill="#fff" stroke="#C55A11" stroke-width="1.15" stroke-linejoin="miter"/>
<path d="M536.75,641.29 L539.75,646.99 L533.75,646.99 Z" fill="#fff" stroke="#C55A11" stroke-width="1.15" stroke-linejoin="miter"/>
<path d="M80.49,590.83 C103.63,595.83 182.98,609.59 219.35,620.83 C255.72,632.07 272.25,650.86 298.70,658.27 C325.15,665.67 351.60,673.08 378.05,665.28 C404.50,657.47 430.95,614.22 457.40,611.44 C483.85,608.66 523.52,642.40 536.75,648.59" fill="none" stroke="#C55A11" stroke-width="1.50"/>
<path d="M80.49,587.33 L83.99,590.83 L80.49,594.33 L76.99,590.83 Z" fill="#C55A11"/>
<path d="M219.35,617.33 L222.85,620.83 L219.35,624.33 L215.85,620.83 Z" fill="#C55A11"/>
<path d="M298.70,654.77 L302.20,658.27 L298.70,661.77 L295.20,658.27 Z" fill="#C55A11"/>
<path d="M378.05,661.78 L381.55,665.28 L378.05,668.78 L374.55,665.28 Z" fill="#C55A11"/>
<path d="M457.40,607.94 L460.90,611.44 L457.40,614.94 L453.90,611.44 Z" fill="#C55A11"/>
<path d="M536.75,645.09 L540.25,648.59 L536.75,652.09 L533.25,648.59 Z" fill="#C55A11"/>
<path d="M80.49,741.12 C103.63,721.08 182.98,635.20 219.35,620.83 C255.72,606.46 272.25,650.63 298.70,654.90 C325.15,659.18 351.60,636.37 378.05,646.49 C404.50,656.61 430.95,723.39 457.40,715.61 C483.85,707.83 523.52,619.10 536.75,599.80" fill="none" stroke="#C55A11" stroke-width="1.50"/>
<path d="M80.49,738.02 L83.59,741.12 L80.49,744.23 L77.39,741.12 Z" fill="#fff" stroke="#C55A11" stroke-width="1.15"/>
<path d="M219.35,617.73 L222.45,620.83 L219.35,623.93 L216.25,620.83 Z" fill="#fff" stroke="#C55A11" stroke-width="1.15"/>
<path d="M298.70,651.80 L301.80,654.90 L298.70,658.00 L295.60,654.90 Z" fill="#fff" stroke="#C55A11" stroke-width="1.15"/>
<path d="M378.05,643.39 L381.15,646.49 L378.05,649.59 L374.95,646.49 Z" fill="#fff" stroke="#C55A11" stroke-width="1.15"/>
<path d="M457.40,712.51 L460.50,715.61 L457.40,718.71 L454.30,715.61 Z" fill="#fff" stroke="#C55A11" stroke-width="1.15"/>
<path d="M536.75,596.70 L539.85,599.80 L536.75,602.90 L533.65,599.80 Z" fill="#fff" stroke="#C55A11" stroke-width="1.15"/>
<path d="M80.49,597.00 C103.63,600.97 182.98,616.44 219.35,620.83 C255.72,625.23 272.25,626.53 298.70,623.36 C325.15,620.18 351.60,603.52 378.05,601.77 C404.50,600.01 430.95,605.04 457.40,612.84 C483.85,620.65 523.52,642.63 536.75,648.59" fill="none" stroke="#C55A11" stroke-width="1.50"/>
<circle cx="80.49" cy="597.00" r="3.00" fill="#C55A11"/>
<circle cx="219.35" cy="620.83" r="3.00" fill="#C55A11"/>
<circle cx="298.70" cy="623.36" r="3.00" fill="#C55A11"/>
<circle cx="378.05" cy="601.77" r="3.00" fill="#C55A11"/>
<circle cx="457.40" cy="612.84" r="3.00" fill="#C55A11"/>
<circle cx="536.75" cy="648.59" r="3.00" fill="#C55A11"/>
<path d="M80.49,579.61 C103.63,583.75 182.98,600.83 219.35,604.43 C255.72,608.03 272.25,594.20 298.70,601.21 C325.15,608.22 351.60,645.60 378.05,646.49 C404.50,647.38 430.95,624.27 457.40,606.53 C483.85,588.80 523.52,551.15 536.75,540.08" fill="none" stroke="#C55A11" stroke-width="1.50"/>
<circle cx="80.49" cy="579.61" r="2.75" fill="#fff" stroke="#C55A11" stroke-width="1.2"/>
<circle cx="219.35" cy="604.43" r="2.75" fill="#fff" stroke="#C55A11" stroke-width="1.2"/>
<circle cx="298.70" cy="601.21" r="2.75" fill="#fff" stroke="#C55A11" stroke-width="1.2"/>
<circle cx="378.05" cy="646.49" r="2.75" fill="#fff" stroke="#C55A11" stroke-width="1.2"/>
<circle cx="457.40" cy="606.53" r="2.75" fill="#fff" stroke="#C55A11" stroke-width="1.2"/>
<circle cx="536.75" cy="540.08" r="2.75" fill="#fff" stroke="#C55A11" stroke-width="1.2"/>
<path d="M80.49,603.31 C103.63,603.64 182.98,600.62 219.35,605.27 C255.72,609.92 272.25,626.18 298.70,631.21 C325.15,636.23 351.60,638.36 378.05,635.41 C404.50,632.47 430.95,621.46 457.40,613.54 C483.85,605.62 523.52,592.16 536.75,587.89" fill="none" stroke="#00B050" stroke-width="2.20"/>
<rect x="77.59" y="600.41" width="5.80" height="5.80" fill="#00B050"/>
<rect x="216.45" y="602.37" width="5.80" height="5.80" fill="#00B050"/>
<rect x="295.80" y="628.31" width="5.80" height="5.80" fill="#00B050"/>
<rect x="375.15" y="632.51" width="5.80" height="5.80" fill="#00B050"/>
<rect x="454.50" y="610.64" width="5.80" height="5.80" fill="#00B050"/>
<rect x="533.85" y="584.99" width="5.80" height="5.80" fill="#00B050"/>
<path d="M80.49,586.62 C103.63,597.77 182.98,642.47 219.35,653.50 C255.72,664.53 272.25,652.71 298.70,652.80 C325.15,652.89 351.60,660.60 378.05,654.06 C404.50,647.52 430.95,621.70 457.40,613.54 C483.85,605.39 523.52,606.53 536.75,605.13" fill="none" stroke="#00B050" stroke-width="2.20"/>
<path d="M80.49,583.12 L83.89,589.62 L77.09,589.62 Z" fill="#00B050"/>
<path d="M219.35,650.00 L222.75,656.50 L215.95,656.50 Z" fill="#00B050"/>
<path d="M298.70,649.30 L302.10,655.80 L295.30,655.80 Z" fill="#00B050"/>
<path d="M378.05,650.56 L381.45,657.06 L374.65,657.06 Z" fill="#00B050"/>
<path d="M457.40,610.04 L460.80,616.54 L454.00,616.54 Z" fill="#00B050"/>
<path d="M536.75,601.63 L540.15,608.13 L533.35,608.13 Z" fill="#00B050"/>
<path d="M80.49,579.61 C103.63,585.15 182.98,602.89 219.35,612.84 C255.72,622.80 272.25,633.71 298.70,639.34 C325.15,644.97 351.60,650.93 378.05,646.63 C404.50,642.33 430.95,621.84 457.40,613.54 C483.85,605.25 523.52,599.64 536.75,596.86" fill="none" stroke="#00B050" stroke-width="2.20"/>
<path d="M80.49,576.51 L82.99,579.61 L80.49,582.71 L77.99,579.61 Z" fill="#00B050"/>
<path d="M219.35,609.74 L221.85,612.84 L219.35,615.94 L216.85,612.84 Z" fill="#00B050"/>
<path d="M298.70,636.24 L301.20,639.34 L298.70,642.44 L296.20,639.34 Z" fill="#00B050"/>
<path d="M378.05,643.53 L380.55,646.63 L378.05,649.73 L375.55,646.63 Z" fill="#00B050"/>
<path d="M457.40,610.44 L459.90,613.54 L457.40,616.64 L454.90,613.54 Z" fill="#00B050"/>
<path d="M536.75,593.76 L539.25,596.86 L536.75,599.96 L534.25,596.86 Z" fill="#00B050"/>
<path d="M80.49,570.78 C103.63,580.20 182.98,605.62 219.35,627.28 C255.72,648.94 272.25,697.52 298.70,700.75 C325.15,703.97 351.60,661.16 378.05,646.63 C404.50,632.10 430.95,622.45 457.40,613.54 C483.85,604.64 523.52,596.60 536.75,593.21" fill="none" stroke="#00B050" stroke-width="2.20"/>
<circle cx="80.49" cy="570.78" r="3.00" fill="#00B050"/>
<circle cx="219.35" cy="627.28" r="3.00" fill="#00B050"/>
<circle cx="298.70" cy="700.75" r="3.00" fill="#00B050"/>
<circle cx="378.05" cy="646.63" r="3.00" fill="#00B050"/>
<circle cx="457.40" cy="613.54" r="3.00" fill="#00B050"/>
<circle cx="536.75" cy="593.21" r="3.00" fill="#00B050"/>
<path d="M80.49,538.40 C103.63,545.66 182.98,572.49 219.35,582.00 C255.72,591.51 272.25,588.87 298.70,595.46 C325.15,602.05 351.60,624.57 378.05,621.53 C404.50,618.50 430.95,589.90 457.40,577.23 C483.85,564.57 523.52,550.83 536.75,545.55" fill="none" stroke="#000000" stroke-width="2.00"/>
<rect x="77.59" y="535.50" width="5.80" height="5.80" fill="#000000"/>
<rect x="216.45" y="579.10" width="5.80" height="5.80" fill="#000000"/>
<rect x="295.80" y="592.56" width="5.80" height="5.80" fill="#000000"/>
<rect x="375.15" y="618.63" width="5.80" height="5.80" fill="#000000"/>
<rect x="454.50" y="574.33" width="5.80" height="5.80" fill="#000000"/>
<rect x="533.85" y="542.65" width="5.80" height="5.80" fill="#000000"/>
<path d="M80.49,524.66 C103.63,537.69 182.98,586.48 219.35,602.89 C255.72,619.29 272.25,618.43 298.70,623.08 C325.15,627.73 351.60,635.13 378.05,630.79 C404.50,626.44 430.95,615.79 457.40,597.00 C483.85,578.21 523.52,531.22 536.75,518.07" fill="none" stroke="#000000" stroke-width="2.00"/>
<path d="M80.49,521.16 L83.89,527.66 L77.09,527.66 Z" fill="#000000"/>
<path d="M219.35,599.39 L222.75,605.89 L215.95,605.89 Z" fill="#000000"/>
<path d="M298.70,619.58 L302.10,626.08 L295.30,626.08 Z" fill="#000000"/>
<path d="M378.05,627.29 L381.45,633.79 L374.65,633.79 Z" fill="#000000"/>
<path d="M457.40,593.50 L460.80,600.00 L454.00,600.00 Z" fill="#000000"/>
<path d="M536.75,514.57 L540.15,521.07 L533.35,521.07 Z" fill="#000000"/>
<path d="M80.49,524.66 C103.63,530.31 182.98,546.78 219.35,558.58 C255.72,570.38 272.25,584.78 298.70,595.46 C325.15,606.14 351.60,623.87 378.05,622.66 C404.50,621.44 430.95,606.39 457.40,588.17 C483.85,569.94 523.52,525.78 536.75,513.30" fill="none" stroke="#000000" stroke-width="2.00"/>
<path d="M80.49,521.56 L82.99,524.66 L80.49,527.76 L77.99,524.66 Z" fill="#000000"/>
<path d="M219.35,555.48 L221.85,558.58 L219.35,561.68 L216.85,558.58 Z" fill="#000000"/>
<path d="M298.70,592.36 L301.20,595.46 L298.70,598.56 L296.20,595.46 Z" fill="#000000"/>
<path d="M378.05,619.56 L380.55,622.66 L378.05,625.76 L375.55,622.66 Z" fill="#000000"/>
<path d="M457.40,585.07 L459.90,588.17 L457.40,591.27 L454.90,588.17 Z" fill="#000000"/>
<path d="M536.75,510.20 L539.25,513.30 L536.75,516.40 L534.25,513.30 Z" fill="#000000"/>
<path d="M80.49,539.94 C103.63,547.95 182.98,577.09 219.35,588.03 C255.72,598.96 272.25,596.49 298.70,605.55 C325.15,614.62 351.60,638.85 378.05,642.42 C404.50,646.00 430.95,642.45 457.40,627.00 C483.85,611.56 523.52,562.63 536.75,549.75" fill="none" stroke="#000000" stroke-width="2.00"/>
<circle cx="80.49" cy="539.94" r="3.00" fill="#000000"/>
<circle cx="219.35" cy="588.03" r="3.00" fill="#000000"/>
<circle cx="298.70" cy="605.55" r="3.00" fill="#000000"/>
<circle cx="378.05" cy="642.42" r="3.00" fill="#000000"/>
<circle cx="457.40" cy="627.00" r="3.00" fill="#000000"/>
<circle cx="536.75" cy="549.75" r="3.00" fill="#000000"/>
<rect x="67.60" y="445.70" width="464.00" height="63.80" fill="#fff" stroke="#a4a4a4" stroke-width="1"/>
<line x1="69.90" y1="453.40" x2="84.70" y2="453.40" stroke="#0000EE" stroke-width="2.00"/>
<rect x="73.97" y="450.06" width="6.67" height="6.67" fill="#0000EE"/>
<text x="84.80" y="457.50" class="lg" style="font-size:11.28px">4AR</text>
<line x1="185.90" y1="453.40" x2="200.70" y2="453.40" stroke="#0000EE" stroke-width="2.00"/>
<rect x="190.20" y="450.29" width="6.21" height="6.21" fill="#fff" stroke="#0000EE" stroke-width="1.25"/>
<text x="201.50" y="457.50" class="lg" style="font-size:11.28px">4WQ</text>
<line x1="301.50" y1="453.40" x2="316.30" y2="453.40" stroke="#C0504D" stroke-width="1.50"/>
<path d="M308.90,449.38 L312.81,456.85 L304.99,456.85 Z" fill="#C55A11"/>
<text x="317.30" y="457.50" class="lg" style="font-size:11.28px">4WQ-300°C</text>
<line x1="417.70" y1="453.40" x2="432.50" y2="453.40" stroke="#C55A11" stroke-width="1.50"/>
<path d="M425.10,449.83 L428.55,456.39 L421.65,456.39 Z" fill="#fff" stroke="#C55A11" stroke-width="1.15" stroke-linejoin="miter"/>
<text x="433.40" y="457.50" class="lg" style="font-size:11.28px">4WQ-400°C</text>
<line x1="69.90" y1="469.60" x2="84.70" y2="469.60" stroke="#C55A11" stroke-width="1.50"/>
<path d="M77.30,465.58 L81.33,469.60 L77.30,473.62 L73.28,469.60 Z" fill="#C55A11"/>
<text x="84.80" y="473.70" class="lg" style="font-size:11.28px">4WQ-500°C</text>
<line x1="185.90" y1="469.60" x2="200.70" y2="469.60" stroke="#C55A11" stroke-width="1.50"/>
<path d="M193.30,466.04 L196.87,469.60 L193.30,473.17 L189.74,469.60 Z" fill="#fff" stroke="#C55A11" stroke-width="1.15"/>
<text x="201.50" y="473.70" class="lg" style="font-size:11.28px">4WQ-600°C</text>
<line x1="301.50" y1="469.60" x2="316.30" y2="469.60" stroke="#C55A11" stroke-width="1.50"/>
<circle cx="308.90" cy="469.60" r="3.45" fill="#C55A11"/>
<text x="317.30" y="473.70" class="lg" style="font-size:11.28px">4WQ-650°C</text>
<line x1="417.70" y1="469.60" x2="432.50" y2="469.60" stroke="#C55A11" stroke-width="1.50"/>
<circle cx="425.10" cy="469.60" r="3.16" fill="#fff" stroke="#C55A11" stroke-width="1.2"/>
<text x="433.40" y="473.70" class="lg" style="font-size:11.28px">4WQ-750°C</text>
<line x1="69.90" y1="485.50" x2="84.70" y2="485.50" stroke="#00B050" stroke-width="2.20"/>
<rect x="73.97" y="482.17" width="6.67" height="6.67" fill="#00B050"/>
<text x="84.80" y="489.60" class="lg" style="font-size:11.28px">4WQ-300°C-650°C</text>
<line x1="185.90" y1="485.50" x2="200.70" y2="485.50" stroke="#00B050" stroke-width="2.20"/>
<path d="M193.30,481.48 L197.21,488.95 L189.39,488.95 Z" fill="#00B050"/>
<text x="201.50" y="489.60" class="lg" style="font-size:11.28px">4WQ-400°C-650°C</text>
<line x1="301.50" y1="485.50" x2="316.30" y2="485.50" stroke="#00B050" stroke-width="2.20"/>
<path d="M308.90,481.94 L311.77,485.50 L308.90,489.06 L306.02,485.50 Z" fill="#00B050"/>
<text x="317.30" y="489.60" class="lg" style="font-size:11.28px">4WQ-500°C-650°C</text>
<line x1="417.70" y1="485.50" x2="432.50" y2="485.50" stroke="#00B050" stroke-width="2.20"/>
<circle cx="425.10" cy="485.50" r="3.45" fill="#00B050"/>
<text x="433.40" y="489.60" class="lg" style="font-size:11.28px">4WQ-600°C-650°C</text>
<line x1="69.90" y1="501.40" x2="84.70" y2="501.40" stroke="#000000" stroke-width="2.00"/>
<rect x="73.97" y="498.06" width="6.67" height="6.67" fill="#000000"/>
<text x="84.80" y="505.50" class="lg" style="font-size:11.28px">4WQ-300°C-750°C</text>
<line x1="185.90" y1="501.40" x2="200.70" y2="501.40" stroke="#000000" stroke-width="2.00"/>
<path d="M193.30,497.38 L197.21,504.85 L189.39,504.85 Z" fill="#000000"/>
<text x="201.50" y="505.50" class="lg" style="font-size:11.28px">4WQ-400°C-750°C</text>
<line x1="301.50" y1="501.40" x2="316.30" y2="501.40" stroke="#000000" stroke-width="2.00"/>
<path d="M308.90,497.83 L311.77,501.40 L308.90,504.96 L306.02,501.40 Z" fill="#000000"/>
<text x="317.30" y="505.50" class="lg" style="font-size:11.28px">4WQ-500°C-750°C</text>
<line x1="417.70" y1="501.40" x2="432.50" y2="501.40" stroke="#000000" stroke-width="2.00"/>
<circle cx="425.10" cy="501.40" r="3.45" fill="#000000"/>
<text x="433.40" y="505.50" class="lg" style="font-size:11.28px">4WQ-600°C-750°C</text>
<text x="268.60" y="537.00" class="pl">(b)</text>
<text x="306.50" y="834.50" text-anchor="middle" class="at">Test temperature (<tspan>º</tspan>C)</text>
<text transform="translate(17.60,624.50) rotate(-90)" text-anchor="middle" class="at">Total elongation (%)</text>
</svg>
</body></html>
